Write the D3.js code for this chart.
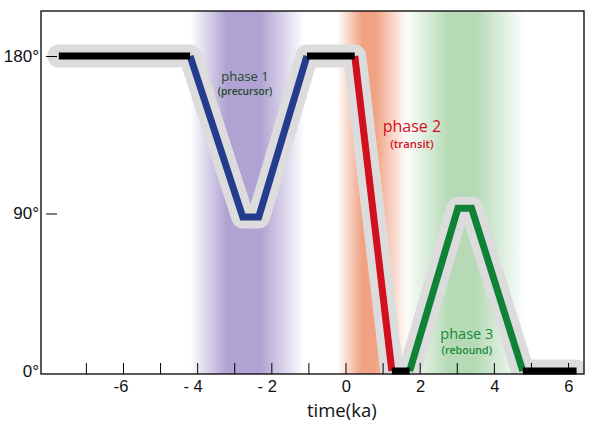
<!DOCTYPE html>
<html>
<head>
<meta charset="utf-8">
<script src="https://cdn.jsdelivr.net/npm/d3@7"></script>
<style>
  body { margin: 0; background: #fff; }
  svg { display: block; font-family: "Open Sans", sans-serif; }
</style>
</head>
<body>
<svg id="chart" width="591" height="425"></svg>
<script>
// path of the declination through time (ka)
const timeKa = [-7.73, -4.19, -2.77, -2.34, -1.04, 0.25, 1.25, 1.73, 3.03, 3.4, 4.78, 6.23];
const declination = [180, 180, 88, 88, 180, 180, 0, 0, 93, 93, 0, 0];
// phase of each segment between two consecutive points
const segmentPhase = ["base", "p1", "p1", "p1", "base", "p2", "base", "p3", "p3", "p3", "base"];

// shaded bands behind the path: [start, full from, full to, end] in ka
const bandNames = ["p1", "p2", "p3"];
const bandExtent = [
  [-4.19, -3.2, -2.3, -1.1],
  [-0.23, 0.45, 0.8, 1.68],
  [1.58, 2.8, 3.5, 4.85],
];

const xTicks = [-7, -6, -5, -4, -3, -2, -1, 0, 1, 2, 3, 4, 5, 6];
const xTickLabels = ["", "-6", "", "- 4", "", "- 2", "", "0", "", "2", "", "4", "", "6"];
const yTicks = [0, 90, 180];
const yTickLabels = ["0°", "90°", "180°"];

const labelTitles = ["phase 1", "phase 2", "phase 3"];
const labelSubtitles = ["(precursor)", "(transit)", "(rebound)"];
const labelTime = [-2.71, 1.79, 3.27];
const labelDeg = [166, 136.5, 18.5];

const margins = { top: 11, right: 7, bottom: 51, left: 41 };

const colours = {
  base: "#000000",
  p1: "#233d8c",
  p2: "#d2101e",
  p3: "#0f8236",
  halo: "#dcdcdc",
  band: { p1: "#b0a2d2", p2: "#f0a283", p3: "#b5dab5" },
  text: { p1: "#1f4a2c", p2: "#d2101e", p3: "#158a3a" },
};
const labelFont = {
  title: { p1: 13, p2: 16, p3: 14.5 },
  sub: { p1: 10.2, p2: 11.3, p3: 10.6 },
  gap: { p1: 14.5, p2: 15.5, p3: 15.5 },
};

const svg = d3.select("#chart");
const width = +svg.attr("width") - margins.left - margins.right;
const height = +svg.attr("height") - margins.top - margins.bottom;

const x = d3.scaleLinear().domain([-8.21, 6.43]).range([0, width]);
const y = d3.scaleLinear().domain([0, 180]).range([360, 45]);

const points = timeKa.map((t, i) => ({ t, deg: declination[i] }));

const defs = svg.append("defs");
defs
  .append("clipPath")
  .attr("id", "plot-clip")
  .append("rect")
  .attr("width", width)
  .attr("height", height);

const main = svg
  .append("g")
  .attr("class", "main-chart")
  .attr("transform", `translate(${margins.left},${margins.top})`);

// bands
bandNames.forEach((name, i) => {
  const [a, b, c, d] = bandExtent[i];
  const span = d - a;
  const grad = defs
    .append("linearGradient")
    .attr("id", `band-${name}`)
    .attr("x1", "0%")
    .attr("x2", "100%");
  const stops = [
    [0, 0],
    [(b - a) / span, 1],
    [(c - a) / span, 1],
    [1, 0],
  ];
  grad
    .selectAll("stop")
    .data(stops)
    .join("stop")
    .attr("offset", (s) => s[0])
    .attr("stop-color", colours.band[name])
    .attr("stop-opacity", (s) => s[1]);
  main
    .append("rect")
    .attr("x", x(a))
    .attr("y", 0)
    .attr("width", x(d) - x(a))
    .attr("height", height)
    .attr("fill", `url(#band-${name})`);
});

const line = d3
  .line()
  .x((d) => x(d.t))
  .y((d) => y(d.deg));

// grey halo round the whole path
main
  .append("path")
  .attr("clip-path", "url(#plot-clip)")
  .attr("d", line(points))
  .style("fill", "none")
  .style("stroke", colours.halo)
  .style("stroke-width", 23)
  .style("stroke-linejoin", "round")
  .style("stroke-linecap", "round");

// group consecutive segments of the same phase into runs
const runs = [];
segmentPhase.forEach((phase, i) => {
  const last = runs[runs.length - 1];
  if (last && last.phase === phase) {
    last.pts.push(points[i + 1]);
  } else {
    runs.push({ phase, pts: [points[i], points[i + 1]] });
  }
});

main
  .selectAll("path.run")
  .data(runs.sort((a, b) => (a.phase === "base") - (b.phase === "base")))
  .join("path")
  .attr("class", "run")
  .attr("d", (d) => line(d.pts))
  .style("fill", "none")
  .style("stroke", (d) => colours[d.phase])
  .style("stroke-width", 7)
  .style("stroke-linejoin", "miter");

// phase labels
const labels = main
  .selectAll("g.label")
  .data(labelTitles)
  .join("g")
  .attr("class", "label")
  .attr("transform", (d, i) => `translate(${x(labelTime[i])},${y(labelDeg[i])})`)
  .style("fill", (d, i) => colours.text[bandNames[i]]);

labels
  .append("text")
  .attr("text-anchor", "middle")
  .style("font-size", (d, i) => `${labelFont.title[bandNames[i]]}px`)
  .text((d) => d);

labels
  .append("text")
  .attr("text-anchor", "middle")
  .attr("y", (d, i) => labelFont.gap[bandNames[i]])
  .style("font-size", (d, i) => `${labelFont.sub[bandNames[i]]}px`)
  .style("font-weight", 600)
  .text((d, i) => labelSubtitles[i]);

// frame
main
  .append("rect")
  .attr("width", width)
  .attr("height", height)
  .style("fill", "none")
  .style("stroke", "#000")
  .style("stroke-width", 1.3);

// axes
const xAxis = d3
  .axisBottom(x)
  .tickValues(xTicks)
  .tickSizeInner(-11)
  .tickSizeOuter(0)
  .tickPadding(6)
  .tickFormat((d, i) => xTickLabels[i]);

const xAxisGroup = main
  .append("g")
  .attr("class", "x-axis")
  .attr("transform", `translate(0,${height})`)
  .call(xAxis);
xAxisGroup.select(".domain").remove();
xAxisGroup
  .selectAll("text")
  .attr("text-anchor", "end")
  .attr("x", 5)
  .style("font-size", "16.5px")
  .style("fill", "#111");

const yAxis = d3
  .axisLeft(y)
  .tickValues(yTicks)
  .tickSize(11)
  .tickPadding(7)
  .tickFormat((d, i) => yTickLabels[i]);

const yAxisGroup = main
  .append("g")
  .attr("class", "y-axis")
  .attr("transform", "translate(16,0)")
  .call(yAxis);
yAxisGroup.select(".domain").remove();
yAxisGroup
  .selectAll(".tick")
  .filter((d) => d === 0)
  .select("line")
  .remove();
yAxisGroup
  .selectAll("text")
  .style("font-size", "17px")
  .style("fill", "#111");

svg
  .append("text")
  .attr("x", margins.left + x(-0.1))
  .attr("y", 417)
  .attr("text-anchor", "middle")
  .style("font-size", "18.5px")
  .style("fill", "#111")
  .text("time(ka)");
</script>
</body>
</html>
